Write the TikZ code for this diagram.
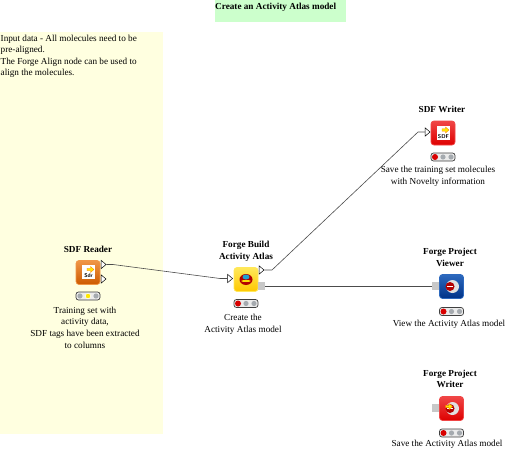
\documentclass[tikz,border=0pt]{standalone}
\usepackage{fontspec}
\setmainfont{Liberation Serif}
\usepackage{tikz}
\usetikzlibrary{calc, shapes.geometric}
\definecolor{noteY}{RGB}{255, 255, 224}
\definecolor{noteG}{RGB}{204, 255, 204}
\definecolor{lampGrey}{RGB}{165, 170, 175}
\definecolor{portGrey}{RGB}{200, 200, 200}
\definecolor{orangeT}{RGB}{240, 150, 70}
\definecolor{orangeB}{RGB}{205, 90, 0}
\definecolor{yellowT}{RGB}{255, 232, 90}
\definecolor{yellowB}{RGB}{255, 200, 0}
\definecolor{redT}{RGB}{240, 70, 70}
\definecolor{redB}{RGB}{222, 0, 0}
\definecolor{blueT}{RGB}{45, 105, 190}
\definecolor{blueB}{RGB}{0, 50, 135}

\tikzset{
  lbl/.style={font=\fontsize{9.2}{11.6}\selectfont, align=center, inner sep=0pt},
  ttl/.style={font=\fontsize{9.2}{11.6}\selectfont\bfseries, align=center, inner sep=0pt},
  icon/.style={minimum size=24pt, inner sep=0pt, rounded corners=3pt, line width=0.7pt},
  inport/.style={isosceles triangle, isosceles triangle apex angle=80, draw=black, fill=white, line width=0.5pt, minimum height=5pt, inner sep=0pt},
  boxport/.style={fill=portGrey, minimum width=7pt, minimum height=8pt, inner sep=0pt},
  lamp/.style={draw=black!75, fill=black!8, rounded corners=2.5pt, line width=0.7pt, minimum width=24pt, minimum height=8pt, inner sep=0pt},
  wire/.style={draw=black!70, line width=0.6pt},
  glyphbox/.style={fill=white, minimum width=13pt, minimum height=14pt, inner sep=0pt},
  glyphtxt/.style={font=\fontsize{5.5}{6}\sffamily\bfseries\selectfont, inner sep=0pt},
  garrow/.pic={\fill[yellow!90!orange, draw=orange, line width=0.3pt] (-3.5,-1.2) -- (0,-1.2) -- (0,-3) -- (3.5,0) -- (0,3) -- (0,1.2) -- (-3.5,1.2) -- cycle;}
}

\begin{document}
\begin{tikzpicture}[x=1pt, y=-1pt]
  \useasboundingbox (0, 0) rectangle (512, 450);
  % Notes
  \fill[noteY] (0, 32) rectangle (163, 434);
  \fill[noteG] (215, 0) rectangle (346, 22);
  \node[ttl, anchor=west] (title) at (215, 7.5) {Create an Activity Atlas model};
  \node[lbl, anchor=north west, align=left] (note) at (0.5, 34.5) {Input data - All molecules need to be\\pre-aligned.\\The Forge Align node can be used to\\align the molecules.};
  % Node bodies
  \node[icon, top color=orangeT, bottom color=orangeB, draw=orangeT] (reader) at (88, 272.5) {};
  \node[icon, top color=yellowT, bottom color=yellowB, draw=yellowT] (build) at (246, 279.5) {};
  \node[icon, top color=redT, bottom color=redB, draw=redT] (writer) at (443, 133) {};
  \node[icon, top color=blueT, bottom color=blueB, draw=blueT] (viewer) at (451.5, 286.5) {};
  \node[icon, top color=redT, bottom color=redB, draw=redT] (pwriter) at (451.5, 408.5) {};
  % Ports
  \node[inport] (Rout1) at (103, 264.5) {};
  \node[inport] (Rout2) at (103, 279) {};
  \node[inport] (Bin) at (229.5, 278.5) {};
  \node[inport] (Bout) at (261, 270) {};
  \node[boxport] (Bbox) at (261.5, 286) {};
  \node[inport] (Win) at (427, 132) {};
  \node[boxport] (Vbox) at (435.5, 286) {};
  \node[boxport] (Pbox) at (435.5, 408) {};
  % Connections
  \coordinate (c1) at (113, 264.5);
  \coordinate (c2) at (220, 278.5);
  \coordinate (c3) at (272, 270);
  \coordinate (c4) at (418, 132);
  \draw[wire] (Rout1.east) -- (c1) -- (c2) -- (Bin.west);
  \draw[wire] (Bout.east) -- (c3) -- (c4) -- (Win.west);
  \draw[wire] (Bbox.east) -- (Vbox.west);
  % Node glyphs
  \foreach \n/\txt in {reader/Sdr, writer/SDF} {
    \node[glyphbox] (g\n) at ($(\n)+(0.5,-0.5)$) {};
    \node[glyphtxt] (t\n) at ($(\n)+(0.5,3.5)$) {\txt};
    \path ($(\n)+(2.5,-3)$) pic {garrow};
  }
  \node[ellipse, fill=red!70!black, minimum width=13pt, minimum height=11pt, inner sep=0pt] (gbuild) at (build) {};
  \node[ellipse, fill=cyan!70!teal, minimum width=7pt, minimum height=5pt, inner sep=0pt] (gbuild2) at ($(build)+(0,-2.5)$) {};
  \node[ellipse, fill=yellow!80!orange, minimum width=10pt, minimum height=2pt, inner sep=0pt] (gbuild3) at ($(build)+(0,1.5)$) {};
  \foreach \n in {viewer, pwriter} {
    \node[circle, fill=black!12, minimum size=13pt, inner sep=0pt] (g\n) at ($(\n)+(1,0)$) {};
    \node[circle, fill=red!70!black, minimum size=9pt, inner sep=0pt] (h\n) at ($(\n)+(-1.5,0)$) {};
    \fill[white] ($(h\n)+(-3,-0.7)$) rectangle ($(h\n)+(3,0.7)$);
  }
  \path ($(pwriter)+(-2.5,-2)$) pic {garrow};
  % Traffic lights
  \foreach \n/\x/\y in {l1/88/296, l2/246/303.5, l3/443/157, l4/451.5/311.5, l5/451.5/433}
    \node[lamp] (\n) at (\x, \y) {};
  \foreach \n in {l1, l2, l3, l4, l5}
    \foreach \d in {-8, 0, 8}
      \fill[lampGrey] ($(\n)+(\d,0)$) circle (2.6);
  \fill[yellow!90!orange, draw=white, line width=0.6pt] (l1) circle (2.8);
  \foreach \n in {l2, l3, l4, l5}
    \fill[red!85!black] ($(\n)+(-8,0)$) circle (3);
  % Labels
  \node[ttl] (Rt) at (88, 249) {SDF Reader};
  \node[lbl] (Rl) at (85, 327.5) {Training set with\\activity data,\\SDF tags have been extracted\\to columns};
  \node[ttl] (Bt) at (246, 251) {Forge Build\\Activity Atlas};
  \node[lbl] (Bl) at (243, 324) {Create the\\Activity Atlas model};
  \node[ttl] (Wt) at (442, 109) {SDF Writer};
  \node[lbl] (Wl) at (438, 176) {Save the training set molecules\\with Novelty information};
  \node[ttl] (Vt) at (450, 257.5) {Forge Project\\Viewer};
  \node[lbl] (Vl) at (449, 324) {View the Activity Atlas model};
  \node[ttl] (Pt) at (450, 379) {Forge Project\\Writer};
  \node[lbl] (Pl) at (447, 444) {Save the Activity Atlas model};
\end{tikzpicture}
\end{document}
